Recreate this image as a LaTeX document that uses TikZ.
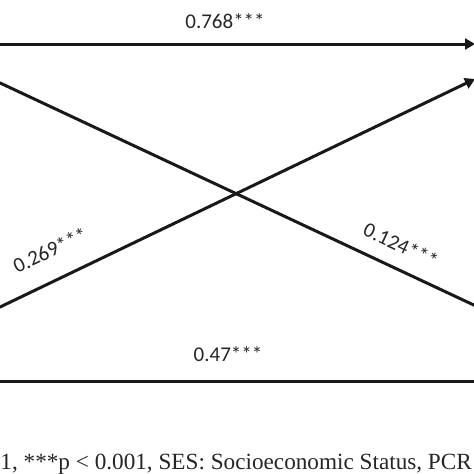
\documentclass[tikz,border=0pt]{standalone}
\usepackage{fontspec}
\setmainfont{Liberation Serif}
\newfontfamily\calfont{Carlito}
\usetikzlibrary{arrows.meta}
\begin{document}
\begin{tikzpicture}[x=1pt,y=-1pt,
  path/.style={line width=3pt, draw=black!90},
  head/.style={-{Triangle[length=10pt,width=11pt]}},
  coef/.style={font=\calfont\fontsize{21}{24}\selectfont, inner sep=0pt, text=black!85},
  foot/.style={font=\fontsize{23.2}{26}\selectfont, inner sep=0pt, text=black!85}]
\useasboundingbox[fill=white] (0,0) rectangle (474,474);
\coordinate (aL) at (-2,44);
\coordinate (aR) at (475,44);
\coordinate (bL) at (-2,82);
\coordinate (bR) at (478,307);
\coordinate (cL) at (-2,308);
\coordinate (cR) at (475,79);
\coordinate (dL) at (-2,381);
\coordinate (dR) at (478,381);
\draw[path,head] (aL) -- (aR);
\draw[path] (bL) -- (bR);
\draw[path,head] (cL) -- (cR);
\draw[path] (dL) -- (dR);
\node[coef] (l1) at (225,21) {0.768***};
\node[coef, rotate=25.5] (l2) at (50,250) {0.269***};
\node[coef, rotate=-25] (l3) at (401,245) {0.124***};
\node[coef] (l4) at (228,354) {0.47***};
\node[foot, anchor=base east] (ft) at (472,469) {1, ***p < 0.001, SES: Socioeconomic Status, PCR};
\end{tikzpicture}
\end{document}
